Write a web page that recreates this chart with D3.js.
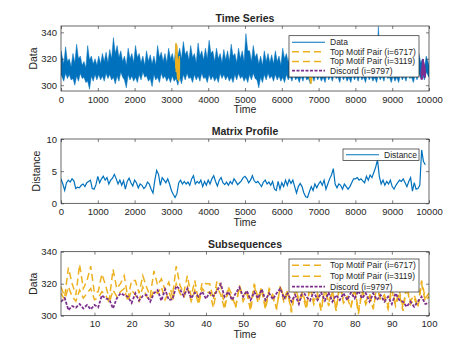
<!DOCTYPE html>
<html><head><meta charset="utf-8">
<script src="https://cdn.jsdelivr.net/npm/d3@7"></script>
<style>
body{margin:0;background:#fff}
text{font-family:"Liberation Sans",Arial,Helvetica,sans-serif;fill:#262626}
</style>
</head><body>
<svg id="c" width="474" height="355"></svg>
<script>
// ---------- DATA ----------
// Time series envelope, read per 100-sample bin:
// spike tops, notch level between top spikes, spike bottoms, ridge level between bottom spikes
const dataHi=[326,329,320,324,331,322,318,330,322,320,
322,324,325,327,336,330,326,322,328,324,
330,324,322,326,323,322,330,325,324,328,
324,331,328,333,326,330,324,332,326,328,
334,326,328,324,327,326,331,324,328,326,
339,326,330,324,322,326,324,323,326,322,
328,324,325,322,324,323,322,324,323,321,
322,324,321,323,322,324,321,323,320,322,
323,321,324,322,320,323,344.5,322,321,323,
322,324,321,323,322,320,321,324,320,322];
const dataHiNotch=[316,318,314,317,320,315,313,319,316,315,
316,318,317,320,324,321,318,315,320,317,
321,317,315,318,316,315,321,318,317,320,
317,322,320,323,319,321,317,322,319,320,
324,318,320,317,319,318,322,317,320,318,
326,318,321,316,315,318,317,316,318,315,
320,317,318,315,317,316,315,317,316,314,
315,317,314,316,315,317,314,316,313,315,
316,314,317,315,313,316,318,315,314,316,
315,317,314,316,315,313,314,317,313,315];
const dataLo=[303,305,304,300,303,305,302,297,303,304,
304,303,305,304,301,303,306,298,304,303,
302,304,306,303,299,304,302,305,303,302,
303,300,301,304,305,302,304,303,305,302,
304,303,302,305,304,303,302,304,305,303,
302,304,305,298,302,304,305,303,304,303,
302,304,303,304,302,303,304,301,303,304,
303,302,304,303,305,302,304,303,302,304,
303,304,302,304,303,302,304,303,305,302,
303,302,304,303,305,302,304,305,304,306];
const dataLoRidge=[308,309,308,305,307,309,306,303,307,308,
308,307,309,308,306,307,310,304,308,307,
306,308,310,307,305,308,306,309,307,306,
307,305,306,308,309,306,308,307,309,306,
308,307,306,309,308,307,306,308,309,307,
306,308,309,304,306,308,309,307,308,307,
306,308,307,308,306,307,308,305,307,308,
307,306,308,307,309,306,308,307,306,308,
307,308,306,308,307,306,308,307,309,306,
307,306,308,307,309,306,308,309,308,310];
const binSize=100;
const seriesLength=10000;

// Matrix profile, read every 50 samples
const mpStep=50;
const mpValues=[3.8,3.0,2.0,3.2,3.6,3.3,3.8,3.5,2.3,2.5,
2.4,2.8,3.0,2.6,3.2,3.4,3.6,2.3,2.2,2.9,
4.2,3.2,3.8,4.2,3.6,4.0,3.0,3.6,3.9,4.5,
3.8,3.0,3.6,2.8,3.5,2.2,3.4,3.9,3.2,2.7,
3.6,3.2,2.4,3.0,2.8,2.3,2.6,3.3,3.0,2.2,
1.6,3.6,5.1,4.5,2.8,4.0,3.6,3.2,3.8,3.0,
2.0,1.4,0.9,1.5,3.2,3.6,3.0,3.4,3.0,3.3,
2.8,3.8,4.3,3.0,3.4,3.1,3.6,2.6,3.4,2.8,
3.6,3.0,3.8,4.3,3.4,2.7,3.6,4.0,3.2,2.9,
3.3,2.8,3.4,3.0,3.8,3.4,2.9,3.2,3.5,4.0,
4.2,3.8,3.2,3.6,4.3,3.5,3.2,3.4,3.0,2.6,
3.3,3.6,3.0,3.3,2.8,3.4,2.2,2.0,3.4,2.2,
3.2,2.6,3.6,2.8,3.7,3.1,3.6,2.6,1.6,2.6,
3.1,2.6,1.6,1.0,0.9,1.8,2.6,2.0,3.0,2.4,
3.0,3.4,2.8,3.6,2.2,3.0,3.8,4.4,5.4,3.0,
2.4,3.0,2.8,2.2,3.0,2.6,2.2,2.6,3.2,3.8,
3.8,4.0,3.6,3.8,3.5,3.2,4.2,3.6,4.4,4.0,
4.8,5.6,6.8,4.2,3.0,3.6,2.8,3.4,3.0,3.6,
2.6,2.2,2.8,3.2,3.6,3.4,3.8,3.2,2.6,3.4,
4.0,1.9,3.2,2.2,2.3,2.8,8.3,6.5,6.0];

// Subsequences (length 100)
const motifAIndex=6717, motifBIndex=3119, discordIndex=9797;
const motifA=[314,310,318,312,309,316,311,314,317,310,
311,315,313,308,316,312,315,317,309,316,
313,309,318,312,310,316,314,318,310,315,
309,320,314,311,318,309,316,307,317,314,
315,305,318,313,304,316,310,306,318,309,
314,303,319,308,316,304,316,311,305,318,
308,314,302,316,308,313,304,318,307,312,
303,317,306,315,303,319,308,311,305,317,
301,315,307,312,304,318,309,311,304,316,
306,314,303,318,307,311,305,320,309,312];
const motifB=[318,312,330,320,313,332,317,322,331,314,
315,326,319,310,329,317,320,325,311,322,
322,314,325,318,312,328,319,323,316,321,
312,331,319,314,325,312,322,309,321,320,
320,310,322,319,306,318,313,305,319,312,
316,306,320,311,318,305,317,313,304,319,
311,316,304,318,310,315,306,319,309,314,
305,318,308,316,304,320,310,312,306,318,
303,316,309,314,305,319,310,313,306,318,
307,316,305,319,309,313,306,322,311,314];
const discord=[308.8,311,303.5,306,305,307.3,304.6,306.7,304,306.7,
305.2,312.7,310.8,310,304.6,310.8,314,312.9,311.9,308,
314,309.4,312.3,313,308.8,314,316,309.4,316.5,309.8,
310.2,318.5,316.5,312.3,317,310.8,314.4,311.9,315,310.6,
314.4,312.3,315.6,319.8,311.9,315,309.8,314,317.7,311.9,
315.6,309.8,314.8,310.8,316.5,309.8,314,310.2,314,317,
310.8,314,308.8,312.9,307.3,315.6,311.9,309.4,315,309.8,
314.4,309.4,314.4,308.8,312.9,309.8,314,309.8,314.4,310.8,
315.6,310.8,314,308.8,314,309.8,312.9,308.8,311.9,307.3,
314,309.8,308.8,305.6,308.8,305.6,308.8,311.9,307.3,308];

const seriesTicks=d3.range(0,10001,1000);
const seriesYTicks=[300,320,340];
const mpYTicks=[0,5,10];
const subTicks=d3.range(10,101,10);
const subYTicks=[300,320,340];
const legendTop=["Data","Top Motif Pair (i="+motifAIndex+")","Top Motif Pair (i="+motifBIndex+")","Discord (i="+discordIndex+")"];
const legendMid=["Distance"];
const legendBot=legendTop.slice(1);

// ---------- STYLE ----------
const BLUE="#0072BD", YEL="#EDB120", PUR="#7E2F8E", AX="#262626";
const L=61, R=429;
const svg=d3.select("#c");

function panel(y0,y1,xd,yd,xt,yt,title,id){
  const x=d3.scaleLinear().domain(xd).range([L,R]);
  const y=d3.scaleLinear().domain(yd).range([y1,y0]);
  const g=svg.append("g");
  svg.append("clipPath").attr("id",id).append("rect").attr("x",L).attr("y",y0).attr("width",R-L).attr("height",y1-y0);
  const plot=g.append("g").attr("clip-path","url(#"+id+")");
  const axes=svg.append("g");
  axes.append("g").attr("transform","translate(0,"+y1+")")
    .call(d3.axisBottom(x).tickValues(xt).tickSizeInner(-3).tickSizeOuter(0).tickPadding(5).tickFormat(d3.format("d")));
  axes.append("g").attr("transform","translate(0,"+y0+")")
    .call(d3.axisTop(x).tickValues(xt).tickSizeInner(-3).tickSizeOuter(0).tickFormat(""));
  axes.append("g").attr("transform","translate("+L+",0)")
    .call(d3.axisLeft(y).tickValues(yt).tickSizeInner(-3).tickSizeOuter(0).tickPadding(4).tickFormat(d3.format("d")));
  axes.append("g").attr("transform","translate("+R+",0)")
    .call(d3.axisRight(y).tickValues(yt).tickSizeInner(-3).tickSizeOuter(0).tickFormat(""));
  axes.selectAll(".domain").remove();
  axes.selectAll(".tick line").attr("stroke",AX).attr("stroke-width",0.6);
  axes.selectAll(".tick text").style("font-size","9.5px").attr("fill",AX).style("font-family",'"Liberation Sans",Arial,sans-serif');
  axes.append("rect").attr("x",L).attr("y",y0).attr("width",R-L).attr("height",y1-y0)
    .attr("fill","none").attr("stroke",AX).attr("stroke-width",0.7);
  svg.append("text").attr("x",(L+R)/2).attr("y",y0-4).attr("text-anchor","middle")
    .style("font-size","10.5px").style("font-weight","bold").text(title);
  svg.append("text").attr("x",(L+R)/2).attr("y",y1+22.3).attr("text-anchor","middle")
    .style("font-size","10.5px").text("Time");
  return {x,y,plot,axes,y0,y1};
}

function legend(x0,y0,w,h,items,styles,rowY){
  const g=svg.append("g");
  g.append("rect").attr("x",x0).attr("y",y0).attr("width",w).attr("height",h)
    .attr("fill","#fff").attr("stroke",AX).attr("stroke-width",0.7);
  items.forEach((t,i)=>{
    const s=styles[i], yy=rowY[i];
    g.append("line").attr("x1",x0+3).attr("x2",x0+36).attr("y1",yy).attr("y2",yy)
      .attr("stroke",s.c).attr("stroke-width",s.w).attr("stroke-dasharray",s.d||null);
    g.append("text").attr("x",x0+41).attr("y",yy+3).style("font-size","8.5px").text(t);
  });
}
const sData={c:BLUE,w:1.1}, sYel={c:YEL,w:1.5,d:"7,4"}, sPur={c:PUR,w:1.8,d:"3,1.5"};

// ---------- PANEL 1: Time Series ----------
const p1=panel(26,91,[0,seriesLength],[295.6,344.8],seriesTicks,seriesYTicks,"Time Series","c1");
const band=[];
dataHi.forEach((h,i)=>{
  band.push({t:i*binSize+binSize*0.25,top:h,bot:dataLoRidge[i]});
  band.push({t:i*binSize+binSize*0.75,top:dataHiNotch[i],bot:dataLo[i]});
});
band[0].t=0; band[band.length-1].t=seriesLength;
p1.plot.append("path").datum(band)
  .attr("d",d3.area().x(d=>p1.x(d.t)).y0(d=>p1.y(d.bot)).y1(d=>p1.y(d.top)))
  .attr("fill",BLUE).attr("stroke",BLUE).attr("stroke-width",0.5);
function sub(p,arr,start,s){
  p.plot.append("path").datum(arr)
    .attr("d",d3.line().x((d,k)=>p.x(start+k)).y(d=>p.y(d)))
    .attr("fill","none").attr("stroke",s.c).attr("stroke-width",s.w).attr("stroke-dasharray",s.d);
}
sub(p1,motifA,motifAIndex,{c:YEL,w:1.5,d:"7,4"});
sub(p1,motifB,motifBIndex,{c:YEL,w:1.5,d:"7,4"});
sub(p1,discord,discordIndex,{c:PUR,w:1.8,d:"3,1.5"});
svg.append("text").attr("transform","translate(37,58.5) rotate(-90)").attr("text-anchor","middle")
  .style("font-size","10.5px").text("Data");
legend(289,35.7,130,41.3,legendTop,[sData,sYel,sYel,sPur],[42.3,51.7,61.4,70.7]);

// ---------- PANEL 2: Matrix Profile ----------
const p2=panel(139,203.3,[0,seriesLength],[0,10],seriesTicks,mpYTicks,"Matrix Profile","c2");
p2.plot.append("path").datum(mpValues)
  .attr("d",d3.line().x((d,i)=>p2.x(i*mpStep)).y(d=>p2.y(d)))
  .attr("fill","none").attr("stroke",BLUE).attr("stroke-width",1.2);
svg.append("text").attr("transform","translate(40,171) rotate(-90)").attr("text-anchor","middle")
  .style("font-size","10.5px").text("Distance");
legend(343,149,76,11.5,legendMid,[sData],[154.7]);

// ---------- PANEL 3: Subsequences ----------
const p3=panel(251.7,315.7,[1,100],[300,340],subTicks,subYTicks,"Subsequences","c3");
sub(p3,motifA,1,sYel);
sub(p3,motifB,1,sYel);
sub(p3,discord,1,sPur);
svg.append("text").attr("transform","translate(37,283.7) rotate(-90)").attr("text-anchor","middle")
  .style("font-size","10.5px").text("Data");
legend(289,259,130,33,legendBot,[sYel,sYel,sPur],[265.2,276.3,286.7]);
</script>
</body></html>
